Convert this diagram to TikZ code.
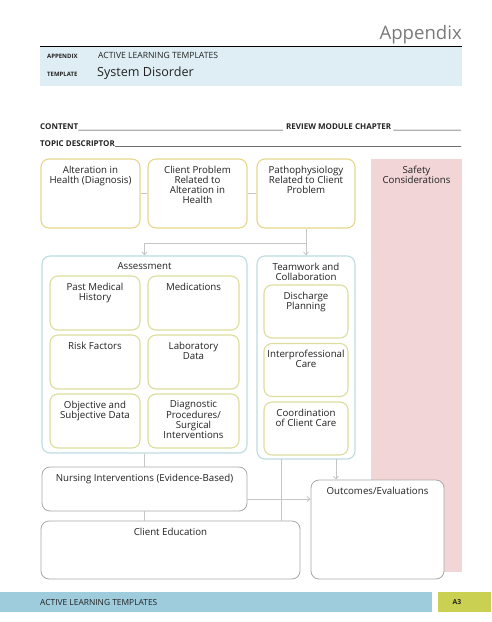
\documentclass[tikz,border=0pt]{standalone}
\usepackage{fontspec}
\setmainfont{Open Sans}
\usetikzlibrary{arrows.meta}

\definecolor{gold}{HTML}{E6D68C}
\definecolor{lime}{HTML}{DCDE9E}
\definecolor{sky}{HTML}{BDDCE1}
\definecolor{band}{HTML}{DFEEF4}
\definecolor{footband}{HTML}{9ECCDC}
\definecolor{footgreen}{HTML}{C9D052}
\definecolor{rose}{HTML}{F2D5D7}
\definecolor{edgegray}{HTML}{A8A8A8}
\definecolor{linkgray}{HTML}{C6C6C6}
\definecolor{headgray}{HTML}{7A7A7A}
\definecolor{ink}{HTML}{222222}

\tikzset{
  box/.style={draw, rounded corners=8pt, line width=1.1pt, fill=white, inner sep=0pt},
  topbox/.style={box, draw=gold},
  subbox/.style={box, draw=lime},
  groupbox/.style={box, draw=sky},
  plainbox/.style={box, draw=edgegray, line width=0.8pt},
  title/.style={anchor=north, align=center, inner sep=0pt, yshift=-7pt,
    text=ink, font=\fontsize{9.7}{10.3}\selectfont},
  link/.style={draw=linkgray, line width=0.8pt},
  arrow/.style={link, -{Straight Barb[length=3pt,width=5pt]}},
  tag/.style={anchor=west, inner sep=0pt, text=ink},
  field/.style={tag, font=\bfseries\fontsize{8}{8}\selectfont},
}

\begin{document}
\begin{tikzpicture}[x=1pt,y=-1pt]
  \useasboundingbox (0,0) rectangle (491,622);

  % header
  \node[anchor=base east, inner sep=0pt, text=headgray, font=\fontsize{18.6}{19}\selectfont] (head) at (462,39) {Appendix};
  \fill[band] (40,47) rectangle (462,86);
  \draw[black, line width=1.6pt] (40,46.5) -- (462,46.5);
  \node[tag, font=\bfseries\fontsize{6}{6}\selectfont] (app) at (47,56) {APPENDIX};
  \node[tag, font=\fontsize{8.6}{9}\selectfont] (alt) at (98,55.5) {ACTIVE LEARNING TEMPLATES};
  \node[tag, font=\bfseries\fontsize{6}{6}\selectfont] (tmpl) at (47,74) {TEMPLATE};
  \node[tag, font=\fontsize{12.6}{13}\selectfont] (sys) at (97,73.5) {System Disorder};

  % fields
  \node[field] (content) at (40,127) {CONTENT};
  \draw[ink, line width=0.5pt] (content.south east) -- (283,130);
  \node[field] (review) at (286,127) {REVIEW MODULE CHAPTER};
  \draw[ink, line width=0.5pt] ([xshift=2pt]review.south east) -- (461,130);
  \node[field] (topic) at (40,143.5) {TOPIC DESCRIPTOR};
  \draw[ink, line width=0.5pt] (topic.south east) -- (461,146.5);

  % safety column
  \node[fill=rose, inner sep=0pt, minimum width=91pt, minimum height=413pt,
    label={[title]north:Safety\\Considerations}] (safety) at (416.5,365.5) {};

  % top row
  \node[topbox, minimum width=99pt, minimum height=69pt,
    label={[title]north:Alteration in\\Health (Diagnosis)}] (alter) at (90.5,193.5) {};
  \node[topbox, minimum width=99pt, minimum height=69pt,
    label={[title]north:Client Problem\\Related to\\Alteration in\\Health}] (problem) at (197.5,193.5) {};
  \node[topbox, minimum width=98pt, minimum height=69pt,
    label={[title]north:Pathophysiology\\Related to Client\\Problem}] (patho) at (306,193.5) {};

  % groups
  \node[groupbox, minimum width=205pt, minimum height=197pt,
    label={[title]north:Assessment}] (assess) at (144.5,354.5) {};
  \node[groupbox, minimum width=98pt, minimum height=203pt,
    label={[title]north:Teamwork and\\Collaboration}] (team) at (306,357.5) {};

  % assessment items
  \node[subbox, minimum width=90pt, minimum height=54pt,
    label={[title]north:Past Medical\\History}] (history) at (95,303) {};
  \node[subbox, minimum width=91pt, minimum height=54pt,
    label={[title]north:Medications}] (meds) at (193.5,303) {};
  \node[subbox, minimum width=90pt, minimum height=54pt,
    label={[title]north:Risk Factors}] (risk) at (95,362) {};
  \node[subbox, minimum width=91pt, minimum height=54pt,
    label={[title]north:Laboratory\\Data}] (lab) at (193.5,362) {};
  \node[subbox, minimum width=90pt, minimum height=54pt,
    label={[title]north:Objective and\\Subjective Data}] (objective) at (95,421) {};
  \node[subbox, minimum width=91pt, minimum height=54pt,
    label={[title]north:Diagnostic\\Procedures/\\Surgical\\Interventions}] (diag) at (193.5,421) {};

  % teamwork items
  \node[subbox, minimum width=84pt, minimum height=53pt,
    label={[title]north:Discharge\\Planning}] (discharge) at (306,311.5) {};
  \node[subbox, minimum width=84pt, minimum height=53pt,
    label={[title]north:Interprofessional\\Care}] (interprof) at (306,370) {};
  \node[subbox, minimum width=84pt, minimum height=53pt,
    label={[title]north:Coordination\\of Client Care}] (coord) at (306,428.5) {};

  % bottom boxes
  \node[plainbox, minimum width=205pt, minimum height=44pt,
    label={[title]north:Nursing Interventions (Evidence-Based)}] (nursing) at (144.5,489) {};
  \node[plainbox, minimum width=259pt, minimum height=58pt,
    label={[title]north:Client Education}] (educ) at (170.5,550) {};
  \node[plainbox, minimum width=133pt, minimum height=99pt,
    label={[title]north:Outcomes/Evaluations}] (outcome) at (377.5,529.5) {};

  % connectors
  \coordinate (split) at (306,243);
  \coordinate (nout) at (247,499);
  \coordinate (tdown) at (281,459);
  \coordinate (tout) at (336,459);
  \draw[link] (alter.east) -- (problem.west);
  \draw[link] (problem.east) -- (patho.west);
  \draw[link] (patho.south) -- (split);
  \draw[arrow] (split) -| (assess.north);
  \draw[arrow] (split) -- (team.north);
  \draw[link] (assess.south) -- (nursing.north);
  \draw[link] (nursing.south) -- (nursing.south |- educ.north);
  \draw[link] (tdown) -- (tdown |- educ.north);
  \draw[arrow] (nout) -- (nout -| outcome.west);
  \draw[arrow] (tout) -- (tout |- outcome.north);

  % footer
  \fill[footband] (0,592) rectangle (432,612);
  \fill[footgreen] (438,592) rectangle (491,612);
  \node[tag, font=\fontsize{8.4}{9}\selectfont] (foot) at (40,602) {ACTIVE LEARNING TEMPLATES};
  \node[inner sep=0pt, text=ink, font=\bfseries\fontsize{6.8}{7}\selectfont] (page) at (457,602) {A3};
\end{tikzpicture}
\end{document}
